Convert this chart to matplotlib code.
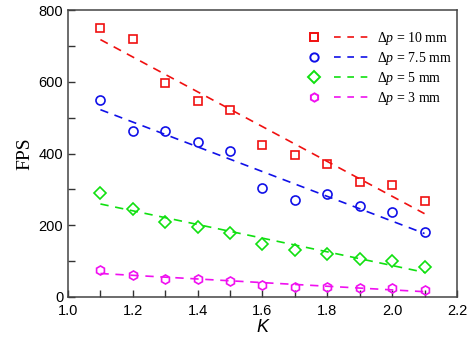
import numpy as np
import matplotlib.pyplot as plt
from matplotlib.lines import Line2D
from matplotlib.legend_handler import HandlerTuple

# stretch factor K and measured FPS for each plate spacing
K = [1.1, 1.2, 1.3, 1.4, 1.5, 1.6, 1.7, 1.8, 1.9, 2.0, 2.1]
fps_10 = [750, 719, 596, 546, 521, 424, 396, 371, 321, 312, 268]
fps_75 = [549, 463, 463, 431, 407, 303, 270, 287, 255, 236, 181]
fps_5 = [289, 244, 208, 194, 179, 148, 131, 120, 105, 101, 85]
fps_3 = [75, 60, 51, 51, 45, 33, 29, 27, 26, 24, 20]

labels = ['10', '7.5', '5', '3']
series = [fps_10, fps_75, fps_5, fps_3]
colors = ['#f01010', '#1010e8', '#10e010', '#f010f0']
markers = ['s', 'o', 'D', 'h']
msizes = [6, 6.5, 6, 6.5]

plt.rcParams['font.family'] = 'Liberation Sans'
plt.rcParams['mathtext.fontset'] = 'custom'
plt.rcParams['mathtext.rm'] = 'Liberation Serif'
plt.rcParams['mathtext.it'] = 'Liberation Serif:italic'

fig = plt.figure(figsize=(4.74, 3.40), dpi=100)
ax = fig.add_axes([0.1435, 0.1265, 0.8205, 0.844])

x = np.array(K)
xf = np.array([1.1, 2.1])
handles = []
for y, lab, c, m, ms in zip(series, labels, colors, markers, msizes):
    y = np.array(y, dtype=float)
    ax.plot(x, y, ls='none', marker=m, ms=ms, mfc='none', mec=c, mew=1.2)
    # linear least squares fit
    k1, k0 = np.polyfit(x, y, 1)
    ax.plot(xf, k0 + k1 * xf, color=c, lw=1.2, dashes=(5, 4))
    hm = Line2D([], [], ls='none', marker=m, ms=6, mfc='none', mec=c, mew=1.4)
    hl = Line2D([], [], color=c, lw=1.2, dashes=(4, 4))
    handles.append(((hm, hl), r'$\Delta p$ = %s mm' % lab))

leg = ax.legend([h for h, _ in handles], [t for _, t in handles],
                handler_map={tuple: HandlerTuple(ndivide=None, pad=0.15)},
                loc='upper right', bbox_to_anchor=(0.986, 0.93),
                borderpad=0, borderaxespad=0,
                frameon=False, handlelength=5.3, handletextpad=0.5,
                labelspacing=0.22, prop={'family': 'Liberation Serif', 'size': 10})

ax.set_xlim(1.0, 2.2)
ax.set_ylim(0, 800)
ax.set_xticks(np.arange(1.0, 2.21, 0.2))
ax.set_xticks(np.arange(1.1, 2.2, 0.2), minor=True)
ax.set_yticks(np.arange(0, 801, 200))
ax.set_yticks(np.arange(100, 800, 200), minor=True)
ax.xaxis.set_major_formatter(plt.FormatStrFormatter('%.1f'))
ax.tick_params(which='both', direction='in', labelsize=10.5, width=1, color='#333333')
ax.tick_params(which='major', length=5)
ax.tick_params(which='minor', length=5)
ax.tick_params(axis='x', pad=5)
for s in ax.spines.values():
    s.set_color('#444444')
    s.set_linewidth(1.1)

ax.set_xlabel('K', fontstyle='italic', fontsize=13, labelpad=1)
ax.set_ylabel('FPS', family='Liberation Serif', fontsize=14, labelpad=4)

fig.savefig('out.png', dpi=100)
